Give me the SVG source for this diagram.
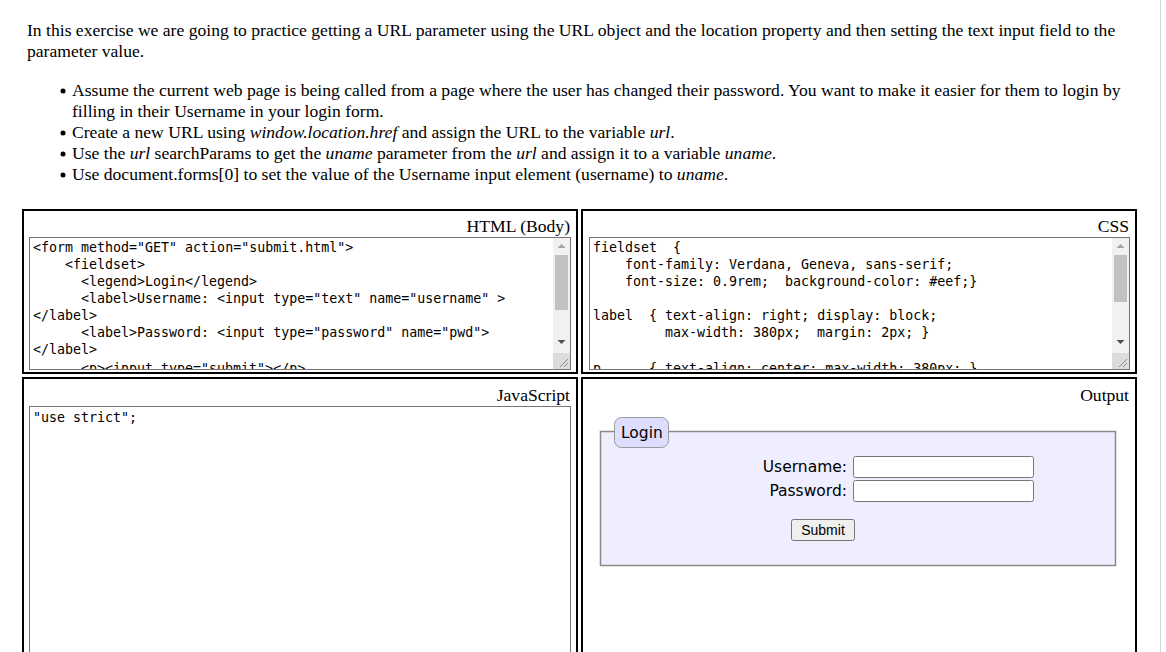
<svg xmlns="http://www.w3.org/2000/svg" width="1166" height="652" viewBox="0 0 1166 652">
<style>
.serif{font-family:"Liberation Serif","Times New Roman",serif;font-size:17.6px;fill:#000}
.mono{font-family:"DejaVu Sans Mono","Liberation Mono",monospace;font-size:13.3px;fill:#000;white-space:pre}
.panel{fill:#fff;stroke:#000;stroke-width:2}
.ta{fill:#fff;stroke:#767676;stroke-width:1}
.track{fill:#f1f1f1}
.thumb{fill:#c1c1c1}
.corner{fill:#dcdcdc}
.grip{stroke:#8a8a8a;stroke-width:1}
.plabel{font-family:"Liberation Serif","Times New Roman",serif;font-size:17.6px;fill:#000;text-anchor:end}
.form{font-family:"DejaVu Sans",Verdana,sans-serif;font-size:15.5px;fill:#000}
.inp{fill:#fff;stroke:#767676;stroke-width:1}
.btn{fill:#efefef;stroke:#767676;stroke-width:1}
</style>
<defs>
<clipPath id="clipHtml"><rect x="30" y="238" width="523" height="131"/></clipPath>
<clipPath id="clipCss"><rect x="590" y="238" width="522" height="131"/></clipPath>
</defs>
<rect width="1166" height="652" fill="#fff"/>
<line x1="1160.5" y1="0" x2="1160.5" y2="652" stroke="#d6d6d6" stroke-width="1"/>

<g id="instructions">
<text class="serif" x="27" y="36">In this exercise we are going to practice getting a URL parameter using the URL object and the location property and then setting the text input field to the</text>
<text class="serif" x="27" y="57">parameter value.</text>
<circle cx="63" cy="91" r="2.5" fill="#000"/>
<circle cx="63" cy="133" r="2.5" fill="#000"/>
<circle cx="63" cy="154" r="2.5" fill="#000"/>
<circle cx="63" cy="175" r="2.5" fill="#000"/>
<text class="serif" x="72" y="96">Assume the current web page is being called from a page where the user has changed their password. You want to make it easier for them to login by</text>
<text class="serif" x="72" y="117">filling in their Username in your login form.</text>
<text class="serif" x="72" y="138">Create a new URL using <tspan font-style="italic">window.location.href</tspan> and assign the URL to the variable <tspan font-style="italic">url</tspan>.</text>
<text class="serif" x="72" y="159">Use the <tspan font-style="italic">url</tspan> searchParams to get the <tspan font-style="italic">uname</tspan> parameter from the <tspan font-style="italic">url</tspan> and assign it to a variable <tspan font-style="italic">uname</tspan>.</text>
<text class="serif" x="72" y="180">Use document.forms[0] to set the value of the Username input element (username) to <tspan font-style="italic">uname</tspan>.</text>
</g>

<g id="html-panel">
<rect class="panel" x="23" y="210" width="554" height="163"/>
<text class="plabel" x="570" y="232">HTML (Body)</text>
<rect class="ta" x="29.5" y="237.5" width="541" height="132"/>
<g clip-path="url(#clipHtml)">
<text class="mono" x="33" y="252" xml:space="preserve">&lt;form method="GET" action="submit.html"&gt;</text>
<text class="mono" x="65" y="269" xml:space="preserve">&lt;fieldset&gt;</text>
<text class="mono" x="81" y="286" xml:space="preserve">&lt;legend&gt;Login&lt;/legend&gt;</text>
<text class="mono" x="81" y="303" xml:space="preserve">&lt;label&gt;Username: &lt;input type="text" name="username" &gt;</text>
<text class="mono" x="33" y="320" xml:space="preserve">&lt;/label&gt;</text>
<text class="mono" x="81" y="337" xml:space="preserve">&lt;label&gt;Password: &lt;input type="password" name="pwd"&gt;</text>
<text class="mono" x="33" y="354" xml:space="preserve">&lt;/label&gt;</text>
<text class="mono" x="81" y="373" xml:space="preserve">&lt;p&gt;&lt;input type="submit"&gt;&lt;/p&gt;</text>
</g>
<rect class="track" x="553" y="238" width="17" height="115"/>
<polygon points="557.5,248 565.5,248 561.5,244" fill="#a3a3a3"/>
<rect class="thumb" x="555" y="255" width="13" height="55"/>
<polygon points="557.5,340 565.5,340 561.5,344" fill="#505050"/>
<rect class="corner" x="553" y="353" width="17" height="16"/>
<line class="grip" x1="560" y1="367" x2="568" y2="359"/>
<line class="grip" x1="564" y1="367" x2="568" y2="363"/>
</g>

<g id="css-panel">
<rect class="panel" x="582" y="210" width="554" height="163"/>
<text class="plabel" x="1129" y="232">CSS</text>
<rect class="ta" x="589.5" y="237.5" width="540" height="132"/>
<g clip-path="url(#clipCss)">
<text class="mono" x="593" y="252" xml:space="preserve">fieldset  {</text>
<text class="mono" x="625" y="269" xml:space="preserve">font-family: Verdana, Geneva, sans-serif;</text>
<text class="mono" x="625" y="286" xml:space="preserve">font-size: 0.9rem;  background-color: #eef;}</text>
<text class="mono" x="593" y="320" xml:space="preserve">label  { text-align: right; display: block;</text>
<text class="mono" x="665" y="337" xml:space="preserve">max-width: 380px;  margin: 2px; }</text>
<text class="mono" x="593" y="373" xml:space="preserve">p      { text-align: center; max-width: 380px; }</text>
</g>
<rect class="track" x="1112" y="238" width="17" height="115"/>
<polygon points="1116.5,248 1124.5,248 1120.5,244" fill="#a3a3a3"/>
<rect class="thumb" x="1114" y="255" width="13" height="47"/>
<polygon points="1116.5,340 1124.5,340 1120.5,344" fill="#505050"/>
<rect class="corner" x="1112" y="353" width="17" height="16"/>
<line class="grip" x1="1119" y1="367" x2="1127" y2="359"/>
<line class="grip" x1="1123" y1="367" x2="1127" y2="363"/>
</g>

<g id="js-panel">
<rect class="panel" x="23" y="378" width="554" height="300"/>
<text class="plabel" x="570" y="401">JavaScript</text>
<rect class="ta" x="29.5" y="406.5" width="541" height="270"/>
<text class="mono" x="33" y="422">"use strict";</text>
</g>

<g id="output-panel">
<rect class="panel" x="582" y="378" width="554" height="300"/>
<text class="plabel" x="1129" y="401">Output</text>
<rect x="600.5" y="431.5" width="515" height="134" fill="#eeeeff" stroke="#8a8a8a" stroke-width="1.5"/>
<rect x="614.5" y="417.5" width="54" height="30" rx="7" fill="#ddddff" stroke="#9a9a9a" stroke-width="1"/>
<text class="form" x="621" y="438">Login</text>
<text class="form" x="847" y="472" text-anchor="end">Username:</text>
<rect class="inp" x="853.5" y="456.5" width="180" height="21" rx="2"/>
<text class="form" x="847" y="496" text-anchor="end">Password:</text>
<rect class="inp" x="853.5" y="480.5" width="180" height="21" rx="2"/>
<rect class="btn" x="791.5" y="519.5" width="63" height="21" rx="2"/>
<text x="823" y="535" text-anchor="middle" font-family="'Liberation Sans',Arial,sans-serif" font-size="14" fill="#000">Submit</text>
</g>
</svg>
